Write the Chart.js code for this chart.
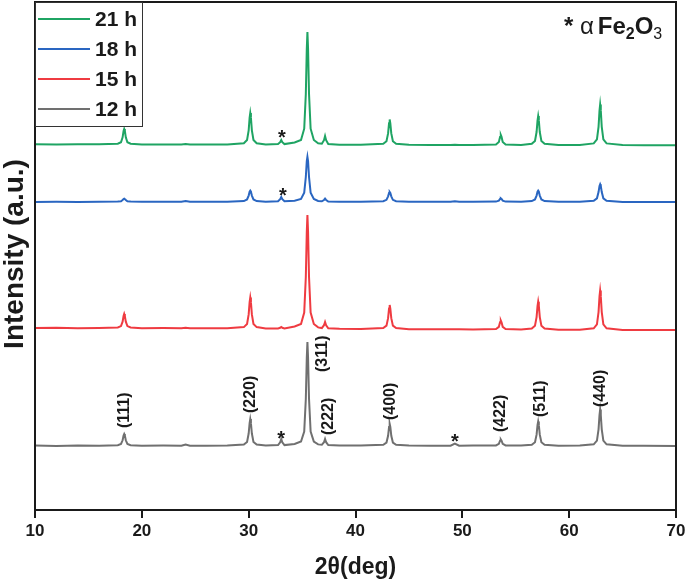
<!DOCTYPE html>
<html>
<head>
<meta charset="utf-8">
<script src="https://cdn.jsdelivr.net/npm/chart.js@4.4.0/dist/chart.umd.min.js"></script>
<style>
  html, body { margin: 0; padding: 0; background: #fff; }
  #wrap { width: 685px; height: 581px; position: relative; }
</style>
</head>
<body>
<div id="wrap"><canvas id="c" width="685" height="581"></canvas></div>
<script>
// 2θ sample positions (deg)
const twoTheta = [10,12,14,16,
  17.75,18.05,18.2,18.29,18.35,18.41,18.5,18.65,18.95,
  20,22, 23.7,24.1,24.5, 26,28,
  29.55,29.85,30.0,30.09,30.15,30.21,30.3,30.45,30.75,
  31.6,
  32.75,32.95,33.05,33.15,33.35,
  34.3,
  34.9,35.2,35.35,35.44,35.5,35.56,35.65,35.8,36.1,
  36.5,
  36.85,37.05,37.15,37.25,37.45,
  38.5,40.5,
  42.6,42.9,43.05,43.14,43.2,43.26,43.35,43.5,43.8,
  45,47, 48.9,49.3,49.7, 51,
  53.15,53.42,53.53,53.6,53.67,53.78,54.05,
  55.5,
  56.5,56.8,56.95,57.04,57.1,57.16,57.25,57.4,57.7,
  59,61,
  62.3,62.6,62.75,62.84,62.9,62.96,63.05,63.2,63.5,
  65,67,70];

// Intensity above each pattern's own baseline (a.u.)
const int12h = [0.5,0,0.5,0.3,
  0.8,2,5.7,10.5,12,10.5,5.7,2,0.8,
  0.2,0.4, 0.3,1.5,0.3, 0.3,0.5,
  1.4,4.1,12.5,23,27,23,12.5,4.1,1.4,
  0.6,
  0.9,3.7,7,3.7,0.9,
  2,
  4.5,14.5,47,88,104,88,47,14.5,4.5,
  1.6,
  1.2,3.8,7,3.8,1,
  0.4,0.5,
  1.2,3.4,10.2,19,22,19,10.2,3.4,1.2,
  0.4,0.3, 0.3,2.5,0.3, 0.4,
  0.6,2.2,5.3,6.5,5.3,2.2,0.6,
  0.4,
  1.3,3.7,11.3,21,24.5,21,11.3,3.7,1.3,
  0.3,0.4,
  1.7,5.4,16.7,31,36.5,31,16.7,5.4,1.7,
  0.3,0.2,0];
const int15h = [1,1.2,0.8,1,
  1.5,2.9,7.3,12.9,15,12.9,7.3,2.9,1.5,
  0.8,0.9, 0.8,1.3,0.8, 0.7,0.8,
  1.9,5,14.6,27,31.5,27,14.6,5,1.9,
  0.6,
  0.6,1.2,2,1.2,0.6,
  2.5,
  5,16.5,52,97,114,97,52,16.5,5,
  1.6,
  0.9,3.8,7,3.8,0.7,
  0.2,0.1,
  1,3.4,10.8,20.4,24,20.4,10.8,3.4,1,
  -0.2,-0.3, -0.3,-0.3,-0.3, -0.4,
  0,2.2,6.7,8.5,6.7,2.2,0,
  -0.5,
  0.4,3.2,11.9,23.1,27.3,23.1,11.9,3.2,0.4,
  -0.8,-0.8,
  0.7,4.6,16.9,32.7,38.5,32.7,16.9,4.6,0.7,
  -0.9,-1,-1];
const int18h = [0,0.2,0,0.2,
  0.4,0.8,2,3,3.3,3,2,0.8,0.4,
  0.2,0.2, 0.2,1,0.2, 0.2,0.3,
  0.9,2.5,6.4,10.3,11.3,10.3,6.4,2.5,0.9,
  0.3,
  0.7,2.8,5,2.8,0.7,
  1.3,
  3,9.3,25,41,45.3,41,25,9.3,3,
  1,
  0.7,2,3.3,2,0.5,
  0.2,0.2,
  0.8,2.2,5.7,9.1,10,9.1,5.7,2.2,0.8,
  0.2,0.2, 0.2,0.8,0.2, 0.2,
  0.4,1.4,3.1,3.7,3.1,1.4,0.4,
  0.2,
  0.9,2.5,6.4,10.3,11.3,10.3,6.4,2.5,0.9,
  0.2,0.2,
  1.2,3.7,9.9,16.1,17.7,16.1,9.9,3.7,1.2,
  0.1,0.1,0];
const int21h = [0.8,0.6,0.8,0.7,
  1.3,2.8,7.7,14,16,14,7.7,2.8,1.3,
  0.6,0.5, 0.4,0.9,0.4, 0.4,0.5,
  1.8,5,14.7,27.4,32,27.4,14.7,5,1.8,
  0.6,
  0.9,2.8,5,2.8,0.9,
  2.5,
  5,16.3,51,96,113,96,51,16.3,5,
  1.8,
  1.3,4.8,9,4.8,1,
  0.3,0.2,
  1.2,3.7,11.6,21.7,25.5,21.7,11.6,3.7,1.2,
  0.2,0.1, 0.1,0.2,0.1, 0.1,
  0.6,3.1,8.1,10,8.1,3.1,0.6,
  0.1,
  1.2,4.1,13,24.7,29,24.7,13,4.1,1.2,
  0,0,
  1.6,5.7,18.2,34.4,40.5,34.4,18.2,5.7,1.6,
  0,-0.2,-0.2];

// vertical stacking offsets (a.u.)
const offsets = { '12 h': 64, '15 h': 181, '18 h': 308, '21 h': 365 };
const seriesNames = ['21 h', '18 h', '15 h', '12 h'];
const seriesValues = { '21 h': int21h, '18 h': int18h, '15 h': int15h, '12 h': int12h };
const seriesColors = { '21 h': '#1fa463', '18 h': '#2a66c1', '15 h': '#ef3b41', '12 h': '#707070' };

// x ticks
const xTicks = [10, 20, 30, 40, 50, 60, 70];

// hkl annotations (anchored in data units: x = 2θ, y = bottom of text)
const hklLabels = ['(111)', '(220)', '(311)', '(222)', '(400)', '(422)', '(511)', '(440)'];
const hklX = [18.35, 30.15, 36.95, 37.5, 43.25, 53.6, 57.35, 62.95];
const hklY = [82, 97, 138, 75, 90, 78, 93, 103];
// α-Fe2O3 star markers
const starX = [33.05, 49.3, 33.2, 33.12];
const starY = [77, 74, 320, 378];

const FONT = '"Liberation Sans", Arial, sans-serif';

const datasets = seriesNames.map(name => ({
  label: name,
  data: twoTheta.map((t, i) => ({ x: t, y: seriesValues[name][i] + offsets[name] })),
  borderColor: seriesColors[name],
  backgroundColor: seriesColors[name],
  borderWidth: 2,
  pointRadius: 0,
  tension: 0,
  fill: false
}));

const overlay = {
  id: 'overlay',
  afterDraw(chart) {
    const ctx = chart.ctx;
    const a = chart.chartArea;
    const xs = chart.scales.x, ys = chart.scales.y;
    ctx.save();
    // frame
    ctx.strokeStyle = '#1a1a1a';
    ctx.lineWidth = 2;
    ctx.strokeRect(a.left, a.top, a.right - a.left, a.bottom - a.top);

    // hkl labels
    ctx.fillStyle = '#1a1a1a';
    ctx.font = 'bold 16px ' + FONT;
    ctx.textAlign = 'left';
    ctx.textBaseline = 'middle';
    hklLabels.forEach((lab, i) => {
      const px = xs.getPixelForValue(hklX[i]);
      const py = ys.getPixelForValue(hklY[i]);
      ctx.save();
      ctx.translate(px, py);
      ctx.rotate(-Math.PI / 2);
      ctx.fillText(lab, 0, 0);
      ctx.restore();
    });

    // stars
    ctx.font = 'bold 20px ' + FONT;
    ctx.textAlign = 'center';
    ctx.textBaseline = 'alphabetic';
    starX.forEach((sx, i) => {
      ctx.fillText('*', xs.getPixelForValue(sx), ys.getPixelForValue(starY[i]) + 12);
    });

    // * α Fe2O3 note
    let x = 564, y = 34;
    ctx.textAlign = 'left';
    const parts = [
      ['*', 'bold 24px', 0], [' ', 'bold 24px', 0], ['α', '24px', 0], [' ', 'bold 14px', 0],
      ['Fe', 'bold 24px', 0], ['2', 'bold 16px', 5], ['O', 'bold 24px', 0], ['3', '16px', 5]
    ];
    parts.forEach(([t, f, dy]) => {
      ctx.font = f + ' ' + FONT;
      ctx.fillText(t, x, y + dy);
      x += ctx.measureText(t).width;
    });

    // legend box
    const lx = a.left, ly = a.top, lw = 107, lh = 124;
    ctx.fillStyle = '#fff';
    ctx.fillRect(lx, ly, lw, lh);
    ctx.strokeStyle = '#333';
    ctx.lineWidth = 1;
    ctx.strokeRect(lx + 0.5, ly + 0.5, lw, lh);
    ctx.font = 'bold 21px ' + FONT;
    ctx.textBaseline = 'middle';
    chart.data.datasets.forEach((ds, i) => {
      const cy = ly + 17 + i * 30;
      ctx.strokeStyle = ds.borderColor;
      ctx.lineWidth = 2;
      ctx.beginPath();
      ctx.moveTo(lx + 3, cy);
      ctx.lineTo(lx + 55, cy);
      ctx.stroke();
      ctx.fillStyle = '#1a1a1a';
      ctx.fillText(ds.label, lx + 60, cy + 1);
    });

    // axis titles
    ctx.fillStyle = '#1a1a1a';
    ctx.font = 'bold 23px ' + FONT;
    ctx.textAlign = 'center';
    ctx.textBaseline = 'middle';
    ctx.fillText('2θ(deg)', (a.left + a.right) / 2, 568);
    ctx.save();
    ctx.translate(15, 254);
    ctx.rotate(-Math.PI / 2);
    ctx.font = 'bold 28px ' + FONT;
    ctx.fillText('Intensity (a.u.)', 0, 0);
    ctx.restore();
    ctx.restore();
  }
};

new Chart(document.getElementById('c'), {
  type: 'line',
  data: { datasets },
  options: {
    responsive: false,
    animation: false,
    layout: { padding: { left: 35, right: 9, top: 2, bottom: 0 } },
    plugins: { legend: { display: false }, tooltip: { enabled: false } },
    scales: {
      x: {
        type: 'linear', min: 10, max: 70,
        afterBuildTicks(s) { s.ticks = xTicks.map(v => ({ value: v })); },
        afterFit(s) { s.height = 71; s.paddingLeft = 0; s.paddingRight = 0; },
        grid: { drawOnChartArea: false, drawTicks: true, tickLength: 8, color: '#1a1a1a', lineWidth: 2 },
        border: { display: true, color: '#1a1a1a', width: 2 },
        ticks: { color: '#1a1a1a', font: { family: FONT, size: 17, weight: 'bold' }, padding: 3, maxRotation: 0 }
      },
      y: { display: false, min: 0, max: 508 }
    }
  },
  plugins: [overlay]
});
</script>
</body>
</html>
